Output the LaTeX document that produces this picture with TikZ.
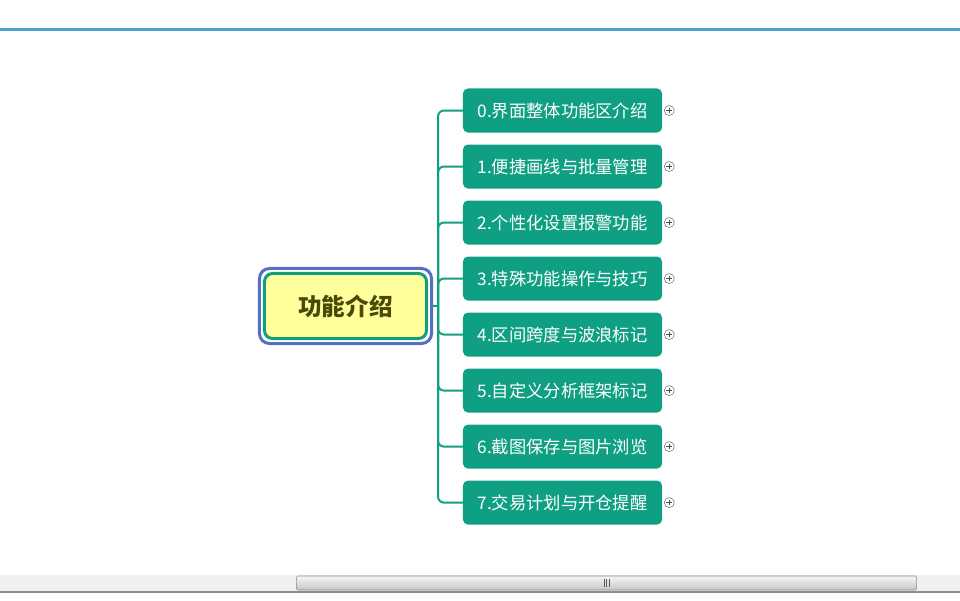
\documentclass[tikz,border=0pt]{standalone}
\usepackage{fontspec}
\newfontfamily\cjk{Noto Sans CJK SC}
\usetikzlibrary{positioning,fit}
\definecolor{topicgreen}{HTML}{0FA083}
\definecolor{rootyellow}{HTML}{FFFF9C}
\definecolor{rootblue}{HTML}{5470BF}
\definecolor{rootteal}{HTML}{129E7F}
\definecolor{roottext}{HTML}{4A4A05}
\definecolor{barblue}{HTML}{48A3CE}

\begin{document}
\begin{tikzpicture}[
    x=0.025cm, y=-0.025cm,
    node distance=0.3cm and 0.05cm,
    root/.style={draw=rootteal, line width=0.075cm, fill=rootyellow, rounded corners=0.2cm, minimum width=4.05cm, minimum height=1.625cm, font=\cjk\fontsize{16.8}{18}\selectfont\bfseries, text=roottext},
    rootframe/.style={draw=rootblue, line width=0.075cm, rounded corners=0.25cm, inner sep=0.0875cm},
    topic/.style={fill=topicgreen, rounded corners=0.125cm, minimum width=4.975cm, minimum height=1.1cm, inner sep=0pt, outer sep=0pt, font=\cjk\fontsize{12.3}{14}\selectfont, text=white},
    branch/.style={draw=topicgreen, line width=0.05cm, rounded corners=0.15cm},
    expander/.style={circle, draw=black!60, line width=0.35pt, minimum size=0.25cm, inner sep=0pt,
      path picture={\draw[black!70, line width=0.4pt] ([xshift=-0.07cm]path picture bounding box.center) -- ([xshift=0.07cm]path picture bounding box.center)
        ([yshift=-0.07cm]path picture bounding box.center) -- ([yshift=0.07cm]path picture bounding box.center);}}
  ]
    \useasboundingbox (0,0) rectangle (960,600);
    % window chrome
    \fill[barblue] (0,27.5) rectangle (960,30.5);
    \fill[black!6] (0,575) rectangle (960,591);
    \fill[black!45] (0,591) rectangle (960,592.5);
    \node[draw=black!45, line width=0.4pt, top color=black!4, bottom color=black!22, rounded corners=1pt, minimum width=15.5cm, minimum height=0.35cm, inner sep=0pt] (thumb) at (606.5,583) {};
    \foreach \dx in {-2.5,0,2.5}
      \draw[black!65, line width=0.6pt] ([xshift=\dx*0.025cm, yshift=-0.09cm]thumb.center) -- ([xshift=\dx*0.025cm, yshift=0.09cm]thumb.center);

    % central topic
    \node[root] (intro) at (345.5,306) {功能介绍};
    \node[rootframe, fit=(intro)] (introframe) {};
    \coordinate[right=0.125cm of introframe] (trunk);

    % subtopics
    \node[topic] (t0) at (562.5,110.5) {0.界面整体功能区介绍};
    \node[topic, below=of t0] (t1) {1.便捷画线与批量管理};
    \node[topic, below=of t1] (t2) {2.个性化设置报警功能};
    \node[topic, below=of t2] (t3) {3.特殊功能操作与技巧};
    \node[topic, below=of t3] (t4) {4.区间跨度与波浪标记};
    \node[topic, below=of t4] (t5) {5.自定义分析框架标记};
    \node[topic, below=of t5] (t6) {6.截图保存与图片浏览};
    \node[topic, below=of t6] (t7) {7.交易计划与开仓提醒};

    \draw[branch] (introframe.east) -- (trunk);
    \foreach \i in {0,...,7} {
      \draw[branch] (trunk) |- (t\i.west);
      \node[expander, right=of t\i] (e\i) {};
    }
  \end{tikzpicture}
\end{document}
